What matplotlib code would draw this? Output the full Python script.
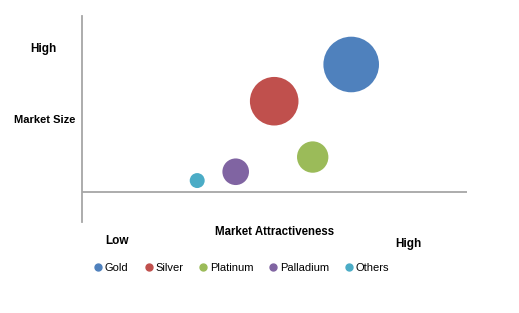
import matplotlib
matplotlib.use("Agg")
import matplotlib.pyplot as plt
from matplotlib.lines import Line2D

# bubble data
metals = ["Gold", "Silver", "Platinum", "Palladium", "Others"]
attractiveness = [7.0, 5.0, 6.0, 4.0, 3.0]
market_size = [8.7, 6.2, 2.4, 1.4, 0.8]
bubble_value = [773, 590, 246, 177, 56]
colors = ["#4F81BD", "#C0504D", "#9BBB59", "#8064A2", "#4BACC6"]

W, H = 519, 313
plt.rcParams['font.family'] = ['Liberation Sans', 'DejaVu Sans']

fig = plt.figure(figsize=(W / 100, H / 100), dpi=100)
ax = fig.add_axes([81.7 / W, 1 - 221.7 / H, 385 / W, 205.7 / H])

scale = (2 * 0.72) ** 2
ax.scatter(attractiveness, market_size, s=[v * scale for v in bubble_value],
           c=colors, linewidths=0, zorder=3)

ax.set_xlim(0, 10)
ax.set_ylim(-2, 12)
ax.axhline(0, color="#A6A6A6", lw=1.3, zorder=1)
for s in ["top", "right", "bottom"]:
    ax.spines[s].set_visible(False)
ax.spines["left"].set_color("#A6A6A6")
ax.spines["left"].set_linewidth(1.3)
ax.set_xticks([])
ax.set_yticks([])

def ftext(x, y, s, size, weight="bold"):
    fig.text(x / W, 1 - y / H, s, ha="center", va="center", fontsize=size, fontweight=weight)

ftext(43.3, 49.3, "High", 8.5)
ftext(45, 120, "Market Size", 8)
ftext(116.7, 241, "Low", 8.5)
ftext(275, 231.7, "Market Attractiveness", 8.3)
ftext(408, 244, "High", 8.5)

handles = [Line2D([], [], marker="o", ls="", color=c, markersize=5) for c in colors]
fig.legend(handles, metals, loc="center", bbox_to_anchor=(241 / W, 1 - 267.7 / H),
           ncol=5, frameon=False, fontsize=8, handletextpad=0.1,
           columnspacing=1.3, handlelength=1.0)

fig.savefig("out.png", dpi=100)
